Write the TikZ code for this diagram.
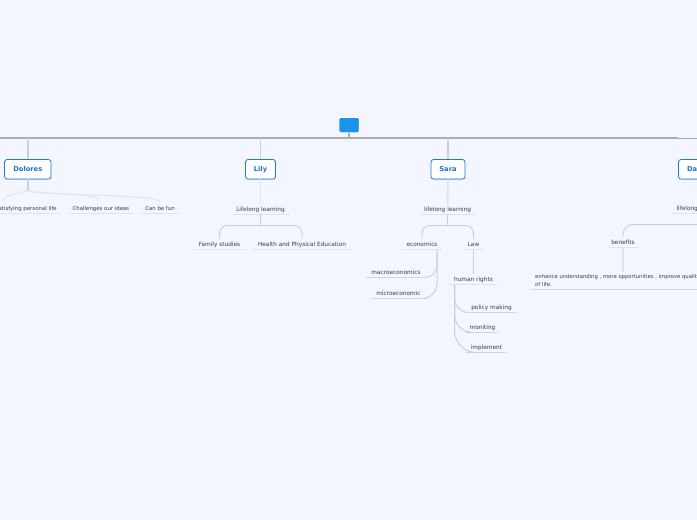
\documentclass[tikz,border=0pt]{standalone}
\usepackage{fontspec}
\setmainfont{DejaVu Sans}
\usepackage{xcolor}
\usetikzlibrary{positioning}
\usetikzlibrary{calc}

\definecolor{pagebg}{HTML}{F3F6FF}
\definecolor{rootblue}{HTML}{1A94E8}
\definecolor{namered}{HTML}{1A6FD6}
\definecolor{nameedge}{HTML}{1F78DC}
\definecolor{nameshade}{HTML}{7DB8F2}
\definecolor{trunkgray}{HTML}{ABADAD}
\definecolor{linkgray}{HTML}{CDCFD8}
\definecolor{undergray}{HTML}{E0E2EC}
\definecolor{thingray}{HTML}{D2D5DF}
\definecolor{textgray}{HTML}{3A3A42}

\tikzset{
  rootbox/.style={fill=rootblue, draw=white, line width=1pt, rounded corners=1.5pt, minimum width=20.5pt, minimum height=15.5pt, inner sep=0pt},
  namebox/.style={fill=white, draw=nameedge, line width=.8pt, rounded corners=2.5pt, minimum height=19.5pt, inner sep=0pt, text=namered, font=\fontsize{6.7}{8}\selectfont\bfseries},
  topic/.style={text=textgray, font=\fontsize{5.8}{8}\selectfont, inner xsep=0pt, inner ysep=2pt, text height=6pt, text depth=.5pt},
  smalltopic/.style={topic, font=\fontsize{5.4}{8}\selectfont},
  trunk/.style={draw=trunkgray, line width=1.5pt},
  link/.style={draw=linkgray, line width=1pt},
  stem/.style={draw=linkgray, line width=1.9pt},
  under/.style={draw=undergray, line width=1.3pt},
  thinunder/.style={draw=thingray, line width=.8pt}
}

\begin{document}
\begin{tikzpicture}[x=1pt,y=-1pt]
\useasboundingbox[fill=pagebg] (0,0) rectangle (697,520);

\node[rootbox] (root) at (349.2,125) {};
\coordinate (trunkl) at (0,138);
\coordinate (trunkr) at (678,138);
\coordinate (trunkend) at (697,138);
\coordinate (rootfoot) at (349.2,138);
\draw[trunk] (trunkl) -- (trunkr);
\draw[draw=trunkgray, line width=.7pt] (trunkr) -- (trunkend);
\draw[draw=trunkgray, line width=1.6pt] (root.south) -- (rootfoot);

\coordinate (doltop) at (27.8,138);
\coordinate (lilytop) at (260.5,138);
\coordinate (saratop) at (448,138);
\coordinate (datop) at (701.5,138);

\node[namebox, minimum width=46.5pt] (dolores) at (27.8,169.3) {Dolores};
\node[namebox, minimum width=30pt] (lily) at (260.5,169.3) {Lily};
\node[namebox, minimum width=34pt] (sara) at (448,169.3) {Sara};
\node[namebox, minimum width=46pt, text width=29pt, align=left] (da) at (701.5,169.3) {Da};

\draw[stem] (doltop) -- (dolores);
\draw[stem] (lilytop) -- (lily);
\draw[stem] (saratop) -- (sara);
\draw[stem] (datop) -- (da);
\foreach \n in {dolores,lily,sara,da}
  \draw[draw=nameshade, line width=1.1pt] ($(\n.south west)+(3,0)$) -- ($(\n.south east)+(-3,0)$);

% Dolores
\node[smalltopic, minimum width=70pt] (satisfying) at (26,208) {Satisfying personal life};
\node[smalltopic, minimum width=66pt] (challenges) at (101,208) {Challenges our ideas};
\node[smalltopic, minimum width=39pt] (fun) at (160,208) {Can be fun};
\draw[under] (satisfying.south west) -- (satisfying.south east);
\draw[under] (challenges.south west) -- (challenges.south east);
\draw[under] (fun.south west) -- (fun.south east);
\coordinate (dolfork) at (27.8,190.5);
\draw[stem] (dolores) -- (dolfork);
\draw[link, draw=undergray] (dolfork) .. controls (20,194) and (5,194) .. (3,201);
\draw[link, draw=undergray] (dolfork) .. controls (38,195) and (98,192) .. (101,201);
\draw[link, draw=undergray] (dolfork) .. controls (45,196) and (150,194) .. (160,201);

% Lily
\node[topic, minimum width=59pt] (lilylearn) at (260.5,209) {Lifelong learning};
\node[topic, minimum width=52pt] (family) at (219.5,244) {Family studies};
\node[topic, minimum width=100pt] (health) at (302,244) {Health and Physical Education};
\draw[under] (lilylearn.south west) -- (lilylearn.south east);
\draw[under] (family.south west) -- (family.south east);
\draw[under] (health.south west) -- (health.south east);
\draw[stem, draw=undergray] (lily) -- (lilylearn);
\coordinate (lilyfork) at (260.5,225.5);
\draw[stem] (lilylearn.south) -- (lilyfork);
\draw[link, rounded corners=8pt] (lilyfork) -| (family.north);
\draw[link, rounded corners=8pt] (lilyfork) -| (health.north);

% Sara
\node[topic, minimum width=57pt] (saralearn) at (447.5,209) {lifelong learning};
\node[topic, minimum width=40pt] (economics) at (422,244) {economics};
\node[topic, minimum width=21pt] (law) at (473.5,244) {Law};
\node[topic, minimum width=49pt] (rights) at (473.5,279) {human rights};
\node[topic, minimum width=60pt] (macro) at (396,272) {macroeconomics};
\node[topic, minimum width=55pt] (micro) at (398.5,293) {microeconomic};
\node[topic, minimum width=51pt] (policy) at (491.5,307) {policy making};
\node[topic, minimum width=33pt] (moniting) at (482.5,327) {moniting};
\node[topic, minimum width=41pt] (implement) at (486.5,347) {implement};
\draw[under] (saralearn.south west) -- (saralearn.south east);
\draw[under] (economics.south west) -- (economics.south east);
\draw[under] (law.south west) -- (law.south east);
\draw[under] (rights.south west) -- (rights.south east);
\draw[thinunder] (macro.south west) -- (macro.south east);
\draw[thinunder] (micro.south west) -- (micro.south east);
\draw[thinunder] (policy.south west) -- (policy.south east);
\draw[thinunder] (moniting.south west) -- (moniting.south east);
\draw[thinunder] (implement.south west) -- (implement.south east);
\draw[stem, draw=undergray] (sara) -- (saralearn);
\coordinate (sarafork) at (447.5,225.5);
\draw[stem] (saralearn.south) -- (sarafork);
\draw[link, rounded corners=8pt] (sarafork) -| (economics.north);
\draw[link, rounded corners=8pt] (sarafork) -| (law.north);
\draw[link] (law) -- (rights);
\coordinate (econstem) at (437,250);
\coordinate (rightstem) at (454.5,285);
\draw[link, rounded corners=12pt] (econstem) |- (macro.south east);
\draw[link, rounded corners=15pt] (econstem) |- (micro.south east);
\draw[link, rounded corners=14pt] (rightstem) |- (policy.south west);
\draw[link, rounded corners=18pt] (rightstem) |- (moniting.south west);
\draw[link, rounded corners=22pt] (rightstem) |- (implement.south west);

% Da
\node[topic, minimum width=57pt] (dalearn) at (700,208) {lifelong learning};
\node[smalltopic, font=\fontsize{5.27}{8}\selectfont, text width=210pt, align=left, inner ysep=2pt, text height=5pt, text depth=9pt, anchor=north west] (enhance) at (535,271.5) {enhance understanding , more opportunities , improve quality\\of life.};
\node[topic, minimum width=31pt] (benefits) at (623,242) {benefits};
\coordinate (enhancel) at (531,289);
\coordinate (enhancer) at (697,289);
\draw[under] (dalearn.south west) -- (dalearn.south east);
\draw[under] (benefits.south west) -- (benefits.south east);
\draw[thinunder] (enhancel) -- (enhancer);
\draw[stem, draw=undergray] (da) -- (dalearn);
\coordinate (dafork) at (700,224.5);
\draw[stem] (dalearn.south) -- (dafork);
\draw[link, rounded corners=10pt] (dafork) -| (benefits.north);
\draw[stem, draw=undergray] (benefits) -- (benefits |- enhance.north);
\end{tikzpicture}
\end{document}
